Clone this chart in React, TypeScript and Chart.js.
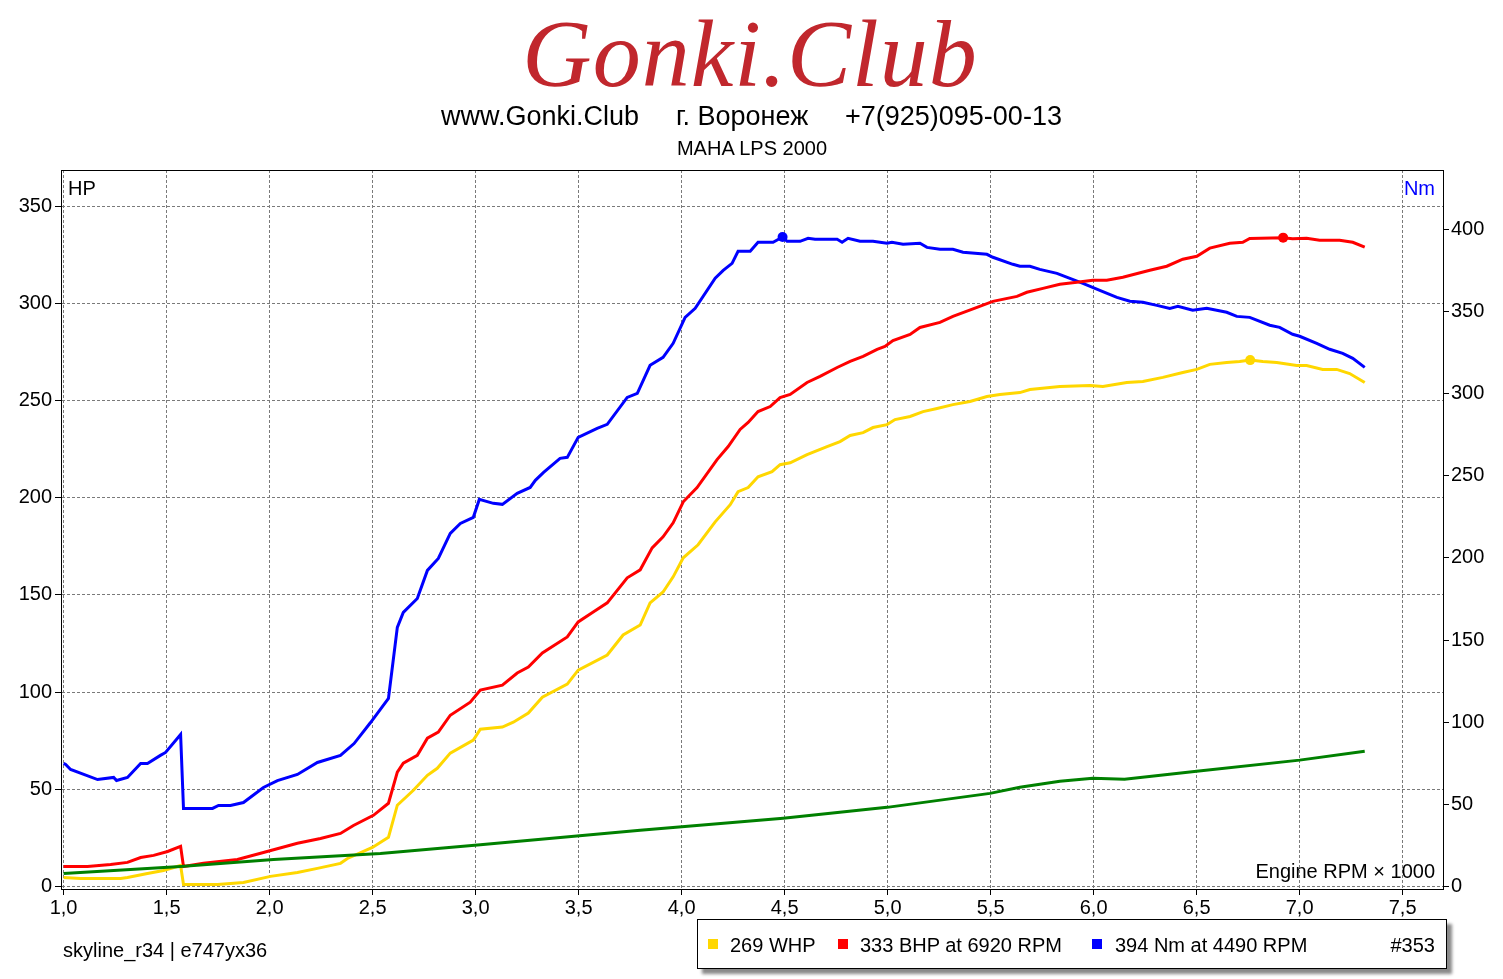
import React, { useEffect, useRef } from "react";
import { Chart, registerables } from "chart.js";

Chart.register(...registerables);

// ---------- DATA ----------
const xTicks = [1.0, 1.5, 2.0, 2.5, 3.0, 3.5, 4.0, 4.5, 5.0, 5.5, 6.0, 6.5, 7.0, 7.5];
const hpTicks = [0, 50, 100, 150, 200, 250, 300, 350];
const nmTicks = [0, 50, 100, 150, 200, 250, 300, 350, 400];

const torqueRpm = [
  1.0, 1.01, 1.034, 1.165, 1.243, 1.257, 1.31, 1.374, 1.407, 1.47, 1.495, 1.568, 1.582, 1.723, 1.752, 1.81,
  1.873, 1.97, 2.038, 2.135, 2.232, 2.344, 2.41, 2.49, 2.577, 2.62, 2.649, 2.717, 2.766, 2.819, 2.877, 2.926,
  2.989, 3.018, 3.086, 3.13, 3.202, 3.265, 3.29, 3.33, 3.41, 3.445, 3.498, 3.59, 3.639, 3.736, 3.785, 3.847,
  3.91, 3.959, 4.017, 4.066, 4.163, 4.202, 4.245, 4.274, 4.333, 4.371, 4.444, 4.49, 4.512, 4.575, 4.614,
  4.648, 4.755, 4.779, 4.808, 4.866, 4.929, 4.997, 5.021, 5.075, 5.157, 5.191, 5.254, 5.317, 5.366, 5.482,
  5.511, 5.608, 5.642, 5.691, 5.739, 5.822, 5.948, 6.03, 6.113, 6.176, 6.239, 6.307, 6.37, 6.409, 6.481,
  6.549, 6.646, 6.695, 6.758, 6.855, 6.903, 6.966, 7.0, 7.083, 7.146, 7.209, 7.258, 7.316,
];
const torqueNm = [
  74.9, 74.3, 71.2, 65.1, 66.4, 64.5, 66.4, 74.9, 74.9, 79.8, 81.6, 92.5, 47.5, 47.5, 49.3, 49.3,
  51.1, 60.3, 64.5, 68.2, 75.5, 79.8, 87, 99.8, 114.5, 157.7, 166.8, 175.3, 192.4, 199.7, 214.9, 221,
  224.7, 235.6, 233.2, 232.6, 239.3, 242.9, 247.2, 252, 260.6, 261.2, 273.4, 278.8, 281.3, 297.7, 300.2, 317.2,
  322.1, 330.6, 346.4, 351.9, 370.2, 375, 379.3, 386.6, 386.6, 392.1, 392.1, 395.3, 392.7, 392.7, 394.5,
  393.9, 393.9, 392.1, 394.5, 392.7, 392.7, 391.5, 392.1, 390.9, 391.5, 389.0, 387.8, 387.8, 386, 384.8,
  383, 378.7, 377.5, 377.5, 375.6, 373.2, 367.1, 362.9, 358.6, 356.2, 355.6, 353.7, 351.9, 353.1, 350.7,
  351.9, 349.5, 347, 346.4, 341.6, 340.3, 336.1, 334.9, 330.6, 327, 324.5, 321.5, 316,
];

const bhpRpm = [
  1.0, 1.116, 1.228, 1.31, 1.374, 1.437, 1.505, 1.568, 1.582, 1.679, 1.844, 1.97, 2.135, 2.247, 2.344, 2.407,
  2.504, 2.577, 2.62, 2.649, 2.717, 2.766, 2.819, 2.877, 2.974, 3.023, 3.13, 3.202, 3.256, 3.324, 3.445, 3.498,
  3.571, 3.639, 3.736, 3.799, 3.857, 3.91, 3.959, 4.008, 4.075, 4.172, 4.226, 4.284, 4.323, 4.371, 4.43, 4.478,
  4.527, 4.609, 4.672, 4.755, 4.818, 4.881, 4.949, 4.987, 5.026, 5.109, 5.157, 5.254, 5.317, 5.434, 5.511,
  5.628, 5.676, 5.754, 5.836, 5.919, 5.996, 6.064, 6.142, 6.273, 6.355, 6.433, 6.501, 6.564, 6.661, 6.724,
  6.758, 6.92, 6.966, 7.034, 7.097, 7.194, 7.258, 7.316,
];
const bhpValues = [
  10.3, 10.3, 11.3, 12.4, 14.9, 16, 18, 20.6, 10.3, 11.9, 13.9, 17.5, 22.2, 24.7, 27.3, 31.4,
  36.6, 42.8, 58.8, 63.4, 67.5, 76.3, 79.4, 88.1, 94.8, 101, 103.6, 109.8, 112.9, 120.1, 128.4, 136.1,
  141.2, 145.9, 158.8, 162.9, 174.2, 179.9, 187.1, 197.9, 205.2, 219.6, 226.3, 235.1, 238.7, 244.3, 246.9, 251.5,
  253.1, 259.3, 262.4, 267, 270.1, 272.7, 276.3, 277.8, 280.9, 284, 287.6, 290.2, 293.3, 297.9, 301,
  303.6, 305.7, 307.7, 309.8, 310.8, 311.9, 311.9, 313.4, 317, 319.1, 322.7, 324.2, 328.4, 330.9, 331.4,
  333.4, 333.8, 333.2, 333.5, 332.5, 332.5, 331.4, 328.9,
];

const whpRpm = [
  1.0, 1.082, 1.277, 1.31, 1.407, 1.485, 1.568, 1.582, 1.747, 1.873, 2.004, 2.135, 2.232, 2.344, 2.378, 2.499,
  2.577, 2.62, 2.698, 2.766, 2.814, 2.877, 2.989, 3.023, 3.13, 3.183, 3.256, 3.324, 3.445, 3.498, 3.639, 3.716,
  3.799, 3.847, 3.91, 3.959, 4.008, 4.08, 4.163, 4.236, 4.274, 4.323, 4.371, 4.439, 4.478, 4.527, 4.609, 4.706,
  4.769, 4.818, 4.881, 4.929, 4.997, 5.036, 5.109, 5.172, 5.24, 5.317, 5.4, 5.482, 5.545, 5.642, 5.691, 5.836,
  5.982, 6.045, 6.161, 6.239, 6.336, 6.433, 6.501, 6.564, 6.646, 6.709, 6.76, 6.821, 6.889, 6.986, 7.034,
  7.112, 7.18, 7.243, 7.316,
];
const whpValues = [
  4.6, 4.1, 4.1, 4.6, 6.7, 8.2, 10.8, 1.0, 1.0, 2.1, 5.2, 7.2, 9.3, 11.9, 14.4, 20.1,
  25.3, 41.8, 49.5, 57.2, 60.8, 68.6, 75.3, 80.9, 82, 84.5, 89.2, 97.4, 104.1, 111.3, 119.1, 129.4,
  134.5, 145.9, 151.5, 159.3, 169.1, 175.8, 187.6, 196.4, 203.1, 205.2, 210.8, 213.4, 217, 218, 222.2, 226.3,
  228.9, 232, 233.5, 236.1, 237.6, 240.2, 241.8, 244.3, 245.9, 247.9, 249.5, 252.1, 253.1, 254.1, 255.7, 257.2,
  257.7, 257.2, 259.3, 259.8, 261.9, 264.4, 266, 268.6, 269.6, 270.1, 270.8, 270.1, 269.6, 268, 268,
  266, 266, 263.9, 259.3,
];

const lossRpm = [1.0, 1.568, 2.019, 2.538, 3.023, 3.799, 4.493, 4.997, 5.497, 5.642, 5.836, 5.996, 6.15, 6.5, 7.0, 7.316];
const lossValues = [6.7, 10.3, 13.9, 17.0, 21.5, 28.9, 35.1, 40.7, 47.9, 51.0, 54.1, 55.7, 55.2, 59.3, 65.0, 69.6];

const legendItems = [
  { color: "#ffd700", text: "269 WHP", left: 708, textLeft: 730 },
  { color: "#ff0000", text: "333 BHP at 6920 RPM", left: 838, textLeft: 860 },
  { color: "#0000ff", text: "394 Nm at 4490 RPM", left: 1092, textLeft: 1115 },
];

// ---------- HELPERS ----------
const FONT = "'Liberation Sans', Arial, Helvetica, sans-serif";

function toPoints(xs: number[], ys: number[]) {
  return xs.map((x, i) => ({ x, y: ys[i] }));
}
function peakIndex(ys: number[]) {
  let idx = 0;
  ys.forEach((v, i) => {
    if (v > ys[idx]) idx = i;
  });
  return idx;
}

const frameBorder = {
  id: "frameBorder",
  afterDraw(chart: any) {
    const { ctx, chartArea } = chart;
    ctx.save();
    ctx.strokeStyle = "#000";
    ctx.lineWidth = 1;
    ctx.strokeRect(
      Math.round(chartArea.left) + 0.5,
      Math.round(chartArea.top) + 0.5,
      Math.round(chartArea.right - chartArea.left),
      Math.round(chartArea.bottom - chartArea.top)
    );
    ctx.restore();
  },
};

export default function App() {
  const canvasRef = useRef<HTMLCanvasElement | null>(null);

  useEffect(() => {
    document.body.style.margin = "0";
    const canvas = canvasRef.current;
    if (!canvas) return;

    const mkLine = (label: string, xs: number[], ys: number[], color: string, axis: string, marker: boolean) => {
      const pk = peakIndex(ys);
      return {
        label,
        data: toPoints(xs, ys),
        borderColor: color,
        backgroundColor: color,
        borderWidth: 3,
        tension: 0,
        yAxisID: axis,
        pointRadius: (c: any) => (marker && c.dataIndex === pk ? 5 : 0),
        pointHoverRadius: 0,
        pointBorderWidth: 0,
      };
    };

    const chart = new Chart(canvas, {
      type: "line",
      data: {
        datasets: [
          mkLine("Loss", lossRpm, lossValues, "#008000", "yHp", false),
          mkLine("WHP", whpRpm, whpValues, "#ffd700", "yHp", true),
          mkLine("BHP", bhpRpm, bhpValues, "#ff0000", "yHp", true),
          mkLine("Nm", torqueRpm, torqueNm, "#0000ff", "yNm", true),
        ] as any,
      },
      options: {
        animation: false,
        responsive: false,
        events: [],
        layout: { padding: { top: 170, bottom: 50, left: 0, right: 0 } },
        plugins: { legend: { display: false }, tooltip: { enabled: false }, title: { display: false } },
        scales: {
          x: {
            type: "linear",
            min: 0.9874,
            max: 7.696,
            afterBuildTicks: (s: any) => {
              s.ticks = xTicks.map((v) => ({ value: v }));
            },
            afterFit: (s: any) => {
              s.height = 40;
            },
            ticks: {
              color: "#000",
              font: { family: FONT, size: 20 },
              padding: 1,
              maxRotation: 0,
              autoSkip: false,
              callback: (v: any) => Number(v).toFixed(1).replace(".", ","),
            },
            grid: {
              color: "#7a7a7a",
              lineWidth: 1,
              tickLength: 6,
              tickColor: "#000",
              tickBorderDash: [],
            },
            border: { display: true, color: "#000", width: 1, dash: [3, 2] },
          },
          yHp: {
            type: "linear",
            position: "left",
            min: -1.3,
            max: 368.6,
            afterBuildTicks: (s: any) => {
              s.ticks = hpTicks.map((v) => ({ value: v }));
            },
            afterFit: (s: any) => {
              s.width = 61;
            },
            ticks: { color: "#000", font: { family: FONT, size: 20 }, padding: 3 },
            grid: {
              color: "#7a7a7a",
              lineWidth: 1,
              tickLength: 6,
              tickColor: "#000",
              tickBorderDash: [],
            },
            border: { display: true, color: "#000", width: 1, dash: [3, 2] },
          },
          yNm: {
            type: "linear",
            position: "right",
            min: -1.52,
            max: 436.1,
            afterBuildTicks: (s: any) => {
              s.ticks = nmTicks.map((v) => ({ value: v }));
            },
            afterFit: (s: any) => {
              s.width = 60;
            },
            ticks: { color: "#000", font: { family: FONT, size: 20 }, padding: 2 },
            grid: {
              drawOnChartArea: false,
              tickLength: 6,
              tickColor: "#000",
              tickBorderDash: [],
            },
            border: { display: true, color: "#000", width: 1 },
          },
        },
      } as any,
      plugins: [frameBorder],
    });

    return () => chart.destroy();
  }, []);

  const abs = (style: React.CSSProperties): React.CSSProperties => ({ position: "absolute", whiteSpace: "nowrap", ...style });

  return (
    <div
      style={{
        position: "absolute",
        left: 0,
        top: 0,
        width: 1503,
        height: 979,
        overflow: "hidden",
        background: "#fff",
        fontFamily: FONT,
        color: "#000",
      }}
    >
      <canvas ref={canvasRef} width={1503} height={979} style={{ position: "absolute", left: 0, top: 0, width: 1503, height: 979 }} />

      {/* Logo */}
      <div
        style={abs({
          left: 500,
          top: 0,
          width: 500,
          textAlign: "center",
          fontFamily: "'Liberation Serif', 'DejaVu Serif', serif",
          fontStyle: "italic",
          fontSize: 96,
          lineHeight: "108px",
          color: "#c1272d",
          letterSpacing: 1,
        })}
      >
        Gonki.Club
      </div>

      {/* Contact line */}
      <div style={abs({ left: 441, top: 100, fontSize: 27, lineHeight: "32px" })}>www.Gonki.Club</div>
      <div style={abs({ left: 676, top: 100, fontSize: 27, lineHeight: "32px" })}>г. Воронеж</div>
      <div style={abs({ left: 845, top: 100, fontSize: 27, lineHeight: "32px" })}>+7(925)095-00-13</div>
      <div style={abs({ left: 652, top: 136, width: 200, textAlign: "center", fontSize: 20, lineHeight: "24px" })}>MAHA LPS 2000</div>

      {/* Axis unit labels inside plot */}
      <div style={abs({ left: 68, top: 176, fontSize: 20, lineHeight: "24px" })}>HP</div>
      <div style={abs({ left: 1335, top: 176, width: 100, textAlign: "right", fontSize: 20, lineHeight: "24px", color: "#0000ff" })}>Nm</div>
      <div style={abs({ left: 1135, top: 859, width: 300, textAlign: "right", fontSize: 20, lineHeight: "24px" })}>Engine RPM × 1000</div>

      {/* Bottom-left run name */}
      <div style={abs({ left: 63, top: 938, fontSize: 20, lineHeight: "24px" })}>skyline_r34 | e747yx36</div>

      {/* Legend box */}
      <div
        style={abs({
          left: 697,
          top: 919,
          width: 748,
          height: 48,
          border: "1px solid #000",
          background: "#fff",
          boxShadow: "5px 5px 3px #8a8a8a",
        })}
      />
      {legendItems.map((it) => (
        <React.Fragment key={it.text}>
          <div style={abs({ left: it.left, top: 939, width: 10, height: 10, background: it.color })} />
          <div style={abs({ left: it.textLeft, top: 933, fontSize: 20, lineHeight: "24px" })}>{it.text}</div>
        </React.Fragment>
      ))}
      <div style={abs({ left: 1335, top: 933, width: 100, textAlign: "right", fontSize: 20, lineHeight: "24px" })}>#353</div>
    </div>
  );
}
